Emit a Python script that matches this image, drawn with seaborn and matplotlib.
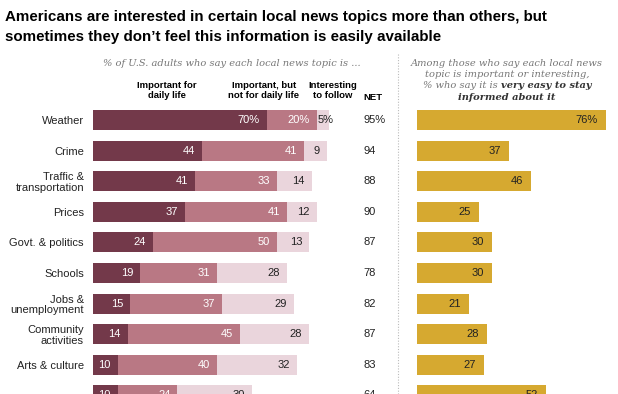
import numpy as np
import pandas as pd
import matplotlib.pyplot as plt
from matplotlib.lines import Line2D
import seaborn as sns

topics = ['Weather', 'Crime', 'Traffic &\ntransportation', 'Prices', 'Govt. & politics',
          'Schools', 'Jobs &\nunemployment', 'Community\nactivities', 'Arts & culture', 'Sports']
daily = [70, 44, 41, 37, 24, 19, 15, 14, 10, 10]
not_daily = [20, 41, 33, 41, 50, 31, 37, 45, 40, 24]
interesting = [5, 9, 14, 12, 13, 28, 29, 28, 32, 30]
net = [95, 94, 88, 90, 87, 78, 82, 87, 83, 64]
easy = [76, 37, 46, 25, 30, 30, 21, 28, 27, 52]

dark = '#73394a'
mid = '#b97884'
light = '#ead5dc'
gold = '#d6a930'
text_dark = '#222222'

sns.set_style('white')
plt.rcParams['font.family'] = ['Liberation Sans', 'DejaVu Sans']

df = pd.DataFrame({'topic': topics, 'daily': daily, 'not_daily': not_daily,
                   'interesting': interesting, 'net': net, 'easy': easy})
df['mid_end'] = df['daily'] + df['not_daily']
df['total'] = df['mid_end'] + df['interesting']

W, H = 618, 394
scale = 2.485   # px per percentage point
row = 30.6      # px between rows
top_px = 120 - row / 2


def px_box(x0, y0, w, h):
    return [x0 / W, 1 - (y0 + h) / H, w / W, h / H]


def ftext(x, y, s, **kw):
    return fig.text(x / W, 1 - y / H, s, **kw)


fig = plt.figure(figsize=(W / 100, H / 100), dpi=100)
ylim = ((H - top_px) / row - 0.5, -0.5)

# left panel: stacked bars (drawn as cumulative layers)
ax = fig.add_axes(px_box(93, top_px, 100 * scale, H - top_px))
for col, c in [('total', light), ('mid_end', mid), ('daily', dark)]:
    sns.barplot(data=df, x=col, y='topic', color=c, saturation=1, width=0.654,
                linewidth=0, ax=ax)
ax.set_xlim(0, 100)
ax.set_ylim(*ylim)
ax.set_xlabel('')
ax.set_ylabel('')
ax.set_xticks([])
ax.tick_params(axis='y', length=0, pad=6.5, labelsize=8, labelcolor=text_dark)
for t in ax.get_yticklabels():
    t.set_linespacing(1.1)
sns.despine(ax=ax, left=True, bottom=True)

pad = 7 / scale
for i, r in df.iterrows():
    suf = '%' if i == 0 else ''
    ax.text(r['daily'] - pad, i, f"{r['daily']}{suf}", ha='right', va='center',
            color='white', fontsize=8)
    ax.text(r['mid_end'] - pad, i, f"{r['not_daily']}{suf}", ha='right', va='center',
            color='white', fontsize=8)
    if r['interesting'] < 8:
        ax.text(r['mid_end'] + 1 / scale, i, f"{r['interesting']}{suf}", ha='left',
                va='center', color=text_dark, fontsize=8)
    else:
        ax.text(r['total'] - pad, i, f"{r['interesting']}{suf}", ha='right', va='center',
                color=text_dark, fontsize=8)
    ax.text((363 - 93) / scale, i, f"{r['net']}{suf}", ha='left', va='center',
            color=text_dark, fontsize=8)

# right panel: easy to stay informed
ax2 = fig.add_axes(px_box(417, top_px, W - 417, H - top_px))
sns.barplot(data=df, x='easy', y='topic', color=gold, saturation=1, width=0.654,
            linewidth=0, ax=ax2)
ax2.set_xlim(0, (W - 417) / scale)
ax2.set_ylim(*ylim)
ax2.set_xlabel('')
ax2.set_ylabel('')
ax2.set_xticks([])
ax2.set_yticks([])
sns.despine(ax=ax2, left=True, bottom=True)
for i, v in enumerate(easy):
    suf = '%' if i == 0 else ''
    ax2.text(v - 8 / scale, i, f"{v}{suf}", ha='right', va='center',
             color=text_dark, fontsize=8)

# divider
fig.add_artist(Line2D([398 / W, 398 / W], [0, 1 - 53 / H], color='#bbbbbb',
                      lw=0.8, linestyle=(0, (1, 1.5))))

# title
ftext(5, 17, 'Americans are interested in certain local news topics more than others, but',
      fontsize=10.9, weight='bold', va='center', color='black')
ftext(5, 37, 'sometimes they don\u2019t feel this information is easily available',
      fontsize=10.9, weight='bold', va='center', color='black')

# subtitles
serif = dict(family='DejaVu Serif', style='italic', fontsize=7.1, color='#777777',
             va='center')
ftext(232, 63, '% of U.S. adults who say each local news topic is ...', ha='center', **serif)
ftext(507, 63, 'Among those who say each local news', ha='center', **serif)
ftext(507, 74.5, 'topic is important or interesting,', ha='center', **serif)

fig.canvas.draw()
rend = fig.canvas.get_renderer()
p1 = ftext(0, 86, '% who say it is', ha='left', **serif)
bold_kw = dict(serif, color='#333333', weight='bold')
p2 = ftext(0, 86, 'very easy to stay', ha='left', **bold_kw)
w1 = p1.get_window_extent(rend).width
w2 = p2.get_window_extent(rend).width
gap = 3
x0 = 507 - (w1 + gap + w2) / 2
p1.set_x(x0 / W)
p2.set_x((x0 + w1 + gap) / W)
ftext(507, 97.5, 'informed about it', ha='center', **bold_kw)

# column headers
hdr = dict(fontsize=6.8, weight='bold', color='black', ha='center', va='center',
           multialignment='center')
ftext(167, 90.5, 'Important for\ndaily life', **hdr)
ftext(264, 90.5, 'Important, but\nnot for daily life', **hdr)
ftext(333, 90.5, 'Interesting\nto follow', **hdr)
ftext(373, 97, 'NET', **hdr)

fig.savefig('out.png', dpi=100)
